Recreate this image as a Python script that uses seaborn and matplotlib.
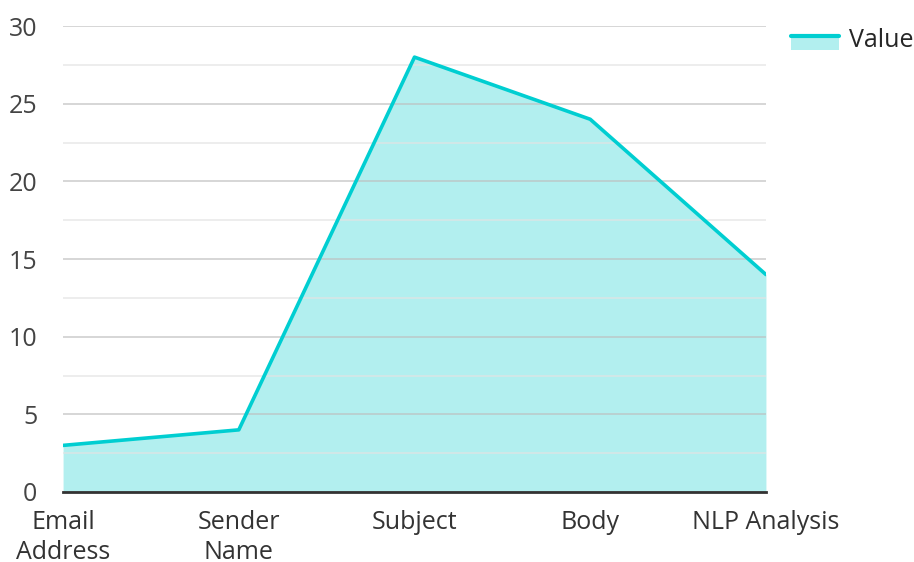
import numpy as np
import pandas as pd
import matplotlib
matplotlib.use("Agg")
import matplotlib.pyplot as plt
import seaborn as sns
from matplotlib.patches import Rectangle
from matplotlib.lines import Line2D
from matplotlib.legend_handler import HandlerBase
from matplotlib.ticker import MultipleLocator

categories = ["Email\nAddress", "Sender\nName", "Subject", "Body", "NLP Analysis"]
values = [3, 4, 28, 24, 14]
series_name = "Value"

df = pd.DataFrame({"pos": np.arange(len(categories)), "value": values})

sns.set_theme(style="white")
plt.rcParams["font.family"] = ["Open Sans", "DejaVu Sans"]

line_color = "#00CED1"
fill_color = "#B2EFEF"


class AreaHandler(HandlerBase):
    # filled box with the line along its top edge, sitting a bit low
    def create_artists(self, legend, orig_handle, xdescent, ydescent,
                       width, height, fontsize, trans):
        shift = 0.35 * height
        r = Rectangle((-xdescent, -ydescent - shift), width, height,
                      facecolor=fill_color, edgecolor="none", transform=trans)
        y = height - ydescent - shift
        l = Line2D([-xdescent, width - xdescent], [y, y], color=line_color,
                   linewidth=3, transform=trans)
        return [r, l]


fig = plt.figure(figsize=(9.14, 5.62), dpi=100)
ax = fig.add_axes([0.069, 0.1246, 0.769, 0.829])

ax.fill_between(df["pos"], df["value"], 0, color=fill_color, linewidth=0, zorder=1)
sns.lineplot(data=df, x="pos", y="value", color=line_color, linewidth=2.6, ax=ax,
             zorder=3, sort=False)

ax.set_xlim(0, len(categories) - 1)
ax.set_ylim(0, 30)
ax.yaxis.set_major_locator(MultipleLocator(5))
ax.yaxis.set_minor_locator(MultipleLocator(2.5))
ax.set_axisbelow(False)
ax.grid(axis="y", which="major", color="#bfbfbf", linewidth=1.1, alpha=0.8, zorder=2)
ax.grid(axis="y", which="minor", color="#e3e3e3", linewidth=1.1, alpha=0.8, zorder=2)
ax.grid(axis="x", visible=False)

ax.set_xticks(df["pos"])
ax.set_xticklabels(categories, fontsize=18, color="#333333", linespacing=1.25)
ax.tick_params(axis="y", labelsize=18, colors="#444444", length=0, pad=18.5)
ax.tick_params(axis="x", length=0, pad=13)
ax.set_xlabel("")
ax.set_ylabel("")

for s in ["top", "right", "left"]:
    ax.spines[s].set_visible(False)
ax.spines["bottom"].set_color("#333333")
ax.spines["bottom"].set_linewidth(2)
ax.spines["bottom"].set_zorder(4)

fig.legend([Rectangle((0, 0), 1, 1)], [series_name],
           handler_map={Rectangle: AreaHandler()},
           loc="upper left", bbox_to_anchor=(0.841, 0.99), frameon=False,
           fontsize=18, handlelength=1.9, handleheight=0.5, handletextpad=0.4)

fig.savefig("out.png", dpi=100)
